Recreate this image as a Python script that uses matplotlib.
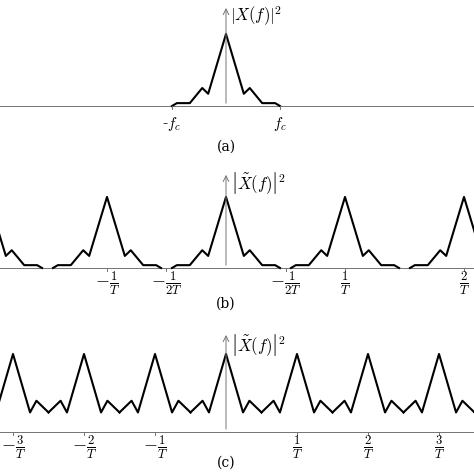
import numpy as np
import matplotlib
matplotlib.use("Agg")
import matplotlib.pyplot as plt

plt.rcParams['mathtext.fontset'] = 'cm'
plt.rcParams['font.family'] = 'serif'
plt.rcParams['font.serif'] = ['DejaVu Serif']

# baseband spectrum |X(f)|^2, f in units of fc
spec_f = [-1.0, -0.91, -0.67, -0.44, -0.33, 0.0, 0.33, 0.44, 0.67, 0.91, 1.0]
spec_y = [0.0, 0.04, 0.04, 0.25, 0.17, 1.0, 0.17, 0.25, 0.04, 0.04, 0.0]
fc_over_fs_b = 0.454   # fc relative to 1/T, panel (b)

# panel (c): one period of aliased spectrum, f in units of 1/T
alias_f = [-0.5, -0.33, -0.24, 0.0, 0.24, 0.33, 0.5]
alias_y = [0.25, 0.40, 0.25, 1.0, 0.25, 0.40, 0.25]

fig = plt.figure(figsize=(4.74, 4.74), dpi=100)
lw = 1.5

def frame(ax, xl, yl, ytop):
    ax.set_xlim(*xl)
    ax.set_ylim(*yl)
    ax.axis('off')
    ax.axhline(0, color='0.45', lw=0.7)
    ax.annotate('', xy=(0, ytop), xytext=(0, 0),
                arrowprops=dict(arrowstyle='->', color='0.45', lw=0.7))

def ticks(ax, pos, labels, ly, fs=13):
    for p, l in zip(pos, labels):
        ax.plot([p, p], [0, -0.04], color='0.45', lw=0.7)
        ax.text(p, ly, l, ha='center', va='center', fontsize=fs)

# (a)
ax = fig.add_axes([0, 1 - 130/474, 1, 130/474])
frame(ax, (-226/54, 248/54), (-0.333, 1.472), 1.40)
ax.plot(spec_f, spec_y, color='k', lw=lw)
ticks(ax, [-1, 1], ['-$f_c$', '$f_c$'], -0.25, fs=11)
ax.text(0, -0.57, '(a)', ha='center', va='center', fontsize=10, clip_on=False)
ax.text(0.08, 1.25, r'$|X(f)|^2$', fontsize=12, va='center')

# (b)
ax = fig.add_axes([0, 1 - 295/474, 1, 135/474])
frame(ax, (-226/119, 248/119), (-0.38, 1.52), 1.35)
for k in range(-3, 4):
    ax.plot(np.array(spec_f) * fc_over_fs_b + k, spec_y, color='k', lw=lw)
ticks(ax, [-1, -0.5, 0.5, 1, 2],
      [r'$-\frac{1}{T}$', r'$-\frac{1}{2T}$', r'$-\frac{1}{2T}$', r'$\frac{1}{T}$', r'$\frac{2}{T}$'], -0.22)
ax.text(0, -0.5, '(b)', ha='center', va='center', fontsize=10, clip_on=False)
ax.text(0.04, 1.2, r'$\left|\tilde{X}(f)\right|^2$', fontsize=12, va='center')

# (c)
ax = fig.add_axes([0, 0, 1, 154/474])
frame(ax, (-226/71, 248/71), (-0.54, 1.436), 1.28)
for k in range(-4, 5):
    ax.plot(np.array(alias_f) + k, alias_y, color='k', lw=lw)
ticks(ax, [-3, -2, -1, 1, 2, 3],
      [r'$-\frac{3}{T}$', r'$-\frac{2}{T}$', r'$-\frac{1}{T}$', r'$\frac{1}{T}$', r'$\frac{2}{T}$', r'$\frac{3}{T}$'], -0.2)
ax.text(0, -0.4, '(c)', ha='center', va='center', fontsize=10, clip_on=False)
ax.text(0.07, 1.12, r'$\left|\tilde{X}(f)\right|^2$', fontsize=12, va='center')

fig.savefig('out.png', dpi=100)
